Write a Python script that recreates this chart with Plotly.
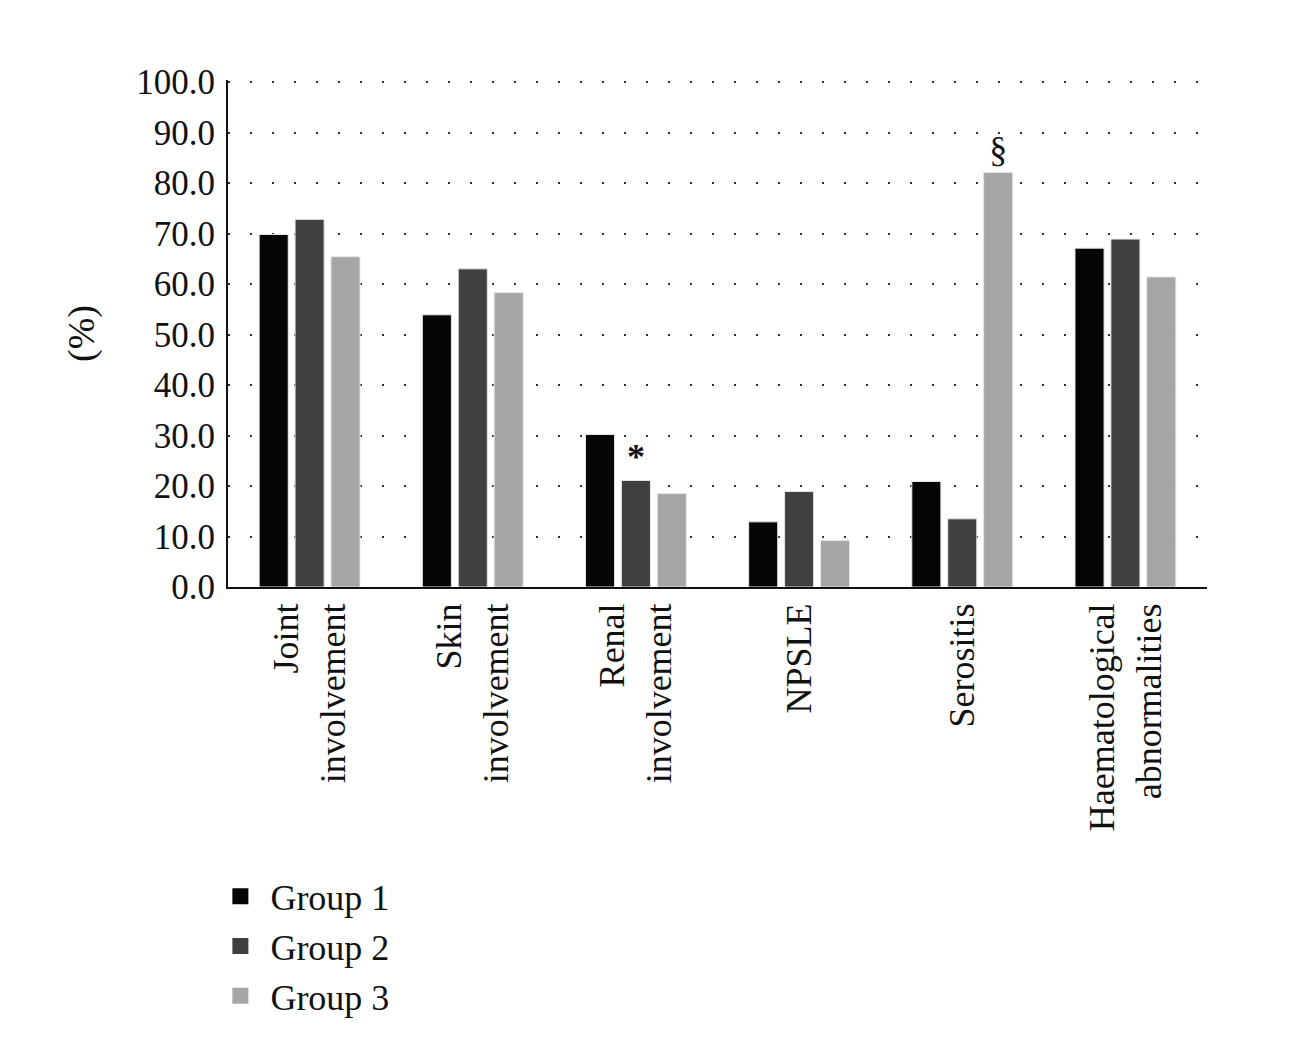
import plotly.graph_objects as go

categories = ["Joint<br>involvement", "Skin<br>involvement", "Renal<br>involvement",
              "NPSLE", "Serositis", "Haematological<br>abnormalities"]
group1 = [69.8, 53.9, 30.2, 12.9, 20.9, 67.1]
group2 = [72.8, 63.0, 21.1, 18.9, 13.5, 68.9]
group3 = [65.4, 58.3, 18.5, 9.2, 82.1, 61.4]
marks1 = ["", "", "", "", "", ""]
marks2 = ["", "", "<b>*</b>", "", "", ""]
marks3 = ["", "", "", "", "§", ""]
series_names = ["Group 1", "Group 2", "Group 3"]
colors = ["#050505", "#404040", "#a6a6a6"]

FONT = "Liberation Serif"
fig = go.Figure()
for name, vals, marks, col in zip(series_names, [group1, group2, group3],
                                   [marks1, marks2, marks3], colors):
    fig.add_trace(go.Bar(
        x=categories, y=vals, name=name, legendgroup=name, showlegend=False,
        marker=dict(color=col, line=dict(color="#e6e6e6", width=1)),
        text=marks, textposition="outside", constraintext="none",
        textfont=dict(family=FONT, size=36, color="#111111"),
        cliponaxis=False,
    ))
# legend entries (larger square swatches)
for name, col in zip(series_names, colors):
    fig.add_trace(go.Scatter(
        x=[None], y=[None], mode="markers", name=name, legendgroup=name,
        marker=dict(symbol="square", size=16, color=col, line=dict(width=0)),
        showlegend=True,
    ))

fig.update_layout(
    width=1300, height=1046,
    margin=dict(l=228, r=93, t=80, b=459, autoexpand=False),
    paper_bgcolor="white", plot_bgcolor="white",
    barmode="group", bargap=0.34, bargroupgap=0.19,
    font=dict(family=FONT, size=35, color="#111111"),
    showlegend=True,
    legend=dict(x=-0.018, y=-0.551, xanchor="left", yanchor="top",
                font=dict(family=FONT, size=36, color="#111111"),
                tracegroupgap=0, itemwidth=50, itemsizing="trace",
                bgcolor="rgba(0,0,0,0)"),
)
fig.update_xaxes(
    showline=True, linecolor="#111111", linewidth=2,
    tickangle=-90, ticks="", showgrid=False,
    tickfont=dict(family=FONT, size=36, color="#111111"),
)
fig.update_yaxes(
    range=[0, 100.4], tickvals=[0, 10, 20, 30, 40, 50, 60, 70, 80, 90, 100],
    tickformat=".1f",
    showline=True, linecolor="#111111", linewidth=2,
    showgrid=True, gridcolor="#333333", gridwidth=2, griddash="2px,20px",
    zeroline=False, ticks="", ticklabelstandoff=4,
    tickfont=dict(family=FONT, size=35, color="#111111"),
    title=dict(text="(%)", font=dict(family=FONT, size=38, color="#111111"), standoff=30),
)

fig.write_html("out.html")
